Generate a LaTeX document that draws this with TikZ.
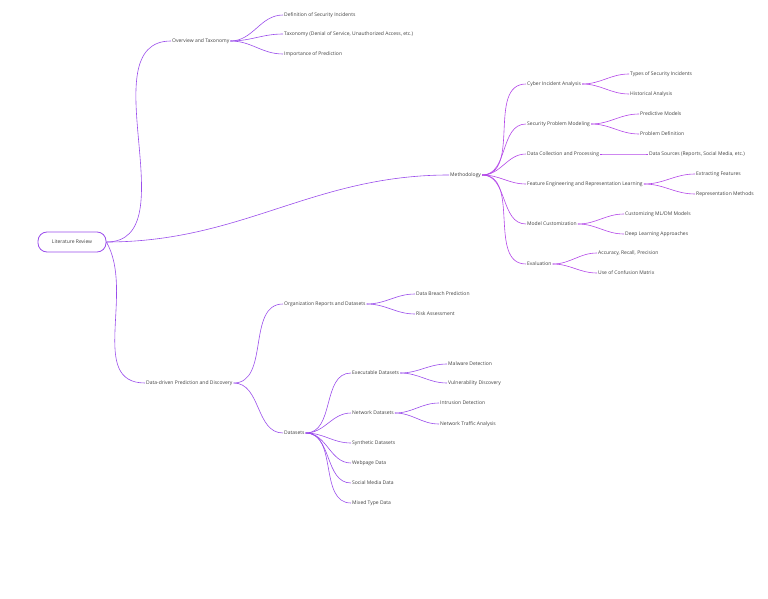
\documentclass[tikz,border=0pt]{standalone}
\usepackage{fontspec}
\setmainfont{Open Sans}
\definecolor{lnk}{HTML}{9A4DEB}
\definecolor{lnkm}{HTML}{B347E8}
\begin{document}
\begin{tikzpicture}[x=1pt,y=-1pt,
  lbl/.style={anchor=west,inner xsep=1pt,inner ysep=1pt,font=\fontsize{5}{6}\selectfont,text=black!75},
  br/.style={draw=lnk,line width=0.6pt,out=0,in=180},
  brm/.style={draw=lnkm,line width=0.6pt,out=0,in=180}]
\useasboundingbox (0,0) rectangle (768,599);
\node[draw=lnk,line width=0.8pt,rounded corners=9pt,minimum width=68pt,minimum height=20pt,font=\fontsize{5}{6}\selectfont,text=black!75] (root) at (72,242) {Literature Review};
% level 1
\node[lbl] (ov) at (171,41) {Overview and Taxonomy};
\node[lbl] (me) at (449,175) {Methodology};
\node[lbl] (dd) at (145,383) {Data-driven Prediction and Discovery};
\draw[br] (root.east) to (ov.west);
\draw[br] (root.east) to (me.west);
\draw[br,out=-60] (root.east) to (dd.west);
% overview
\node[lbl] (o1) at (283,15) {Definition of Security Incidents};
\node[lbl] (o2) at (283,34) {Taxonomy (Denial of Service, Unauthorized Access, etc.)};
\node[lbl] (o3) at (283,54) {Importance of Prediction};
\foreach \c in {o1,o2,o3} \draw[br] (ov.east) to (\c.west);
% methodology
\node[lbl] (m1) at (526,84) {Cyber Incident Analysis};
\node[lbl] (m2) at (526,124) {Security Problem Modeling};
\node[lbl] (m3) at (526,154) {Data Collection and Processing};
\node[lbl] (m4) at (526,184) {Feature Engineering and Representation Learning};
\node[lbl] (m5) at (526,224) {Model Customization};
\node[lbl] (m6) at (526,264) {Evaluation};
\foreach \c in {m1,m2,m3,m4,m5,m6} \draw[brm] (me.east) to (\c.west);
\node[lbl] (m1a) at (629,74) {Types of Security Incidents};
\node[lbl] (m1b) at (629,94) {Historical Analysis};
\node[lbl] (m2a) at (639,114) {Predictive Models};
\node[lbl] (m2b) at (639,134) {Problem Definition};
\node[lbl] (m3a) at (648,154) {Data Sources (Reports, Social Media, etc.)};
\node[lbl] (m4a) at (695,174) {Extracting Features};
\node[lbl] (m4b) at (695,194) {Representation Methods};
\node[lbl] (m5a) at (624,214) {Customizing ML/DM Models};
\node[lbl] (m5b) at (624,234) {Deep Learning Approaches};
\node[lbl] (m6a) at (597,253) {Accuracy, Recall, Precision};
\node[lbl] (m6b) at (597,273) {Use of Confusion Matrix};
\draw[brm] (m1.east) to (m1a.west); \draw[brm] (m1.east) to (m1b.west);
\draw[brm] (m2.east) to (m2a.west); \draw[brm] (m2.east) to (m2b.west);
\draw[brm] (m3.east) to (m3a.west);
\draw[brm] (m4.east) to (m4a.west); \draw[brm] (m4.east) to (m4b.west);
\draw[brm] (m5.east) to (m5a.west); \draw[brm] (m5.east) to (m5b.west);
\draw[brm] (m6.east) to (m6a.west); \draw[brm] (m6.east) to (m6b.west);
% data-driven
\node[lbl] (d1) at (283,304) {Organization Reports and Datasets};
\node[lbl] (d2) at (283,433) {Datasets};
\draw[br] (dd.east) to (d1.west); \draw[br] (dd.east) to (d2.west);
\node[lbl] (d1a) at (415,294) {Data Breach Prediction};
\node[lbl] (d1b) at (415,314) {Risk Assessment};
\draw[br] (d1.east) to (d1a.west); \draw[br] (d1.east) to (d1b.west);
\node[lbl] (e1) at (351,373) {Executable Datasets};
\node[lbl] (e2) at (351,413) {Network Datasets};
\node[lbl] (e3) at (351,443) {Synthetic Datasets};
\node[lbl] (e4) at (351,463) {Webpage Data};
\node[lbl] (e5) at (351,483) {Social Media Data};
\node[lbl] (e6) at (351,503) {Mixed Type Data};
\foreach \c in {e1,e2,e3,e4,e5,e6} \draw[br] (d2.east) to (\c.west);
\node[lbl] (e1a) at (447,364) {Malware Detection};
\node[lbl] (e1b) at (447,383) {Vulnerability Discovery};
\node[lbl] (e2a) at (439,403) {Intrusion Detection};
\node[lbl] (e2b) at (439,424) {Network Traffic Analysis};
\draw[br] (e1.east) to (e1a.west); \draw[br] (e1.east) to (e1b.west);
\draw[br] (e2.east) to (e2a.west); \draw[br] (e2.east) to (e2b.west);
\end{tikzpicture}
\end{document}
